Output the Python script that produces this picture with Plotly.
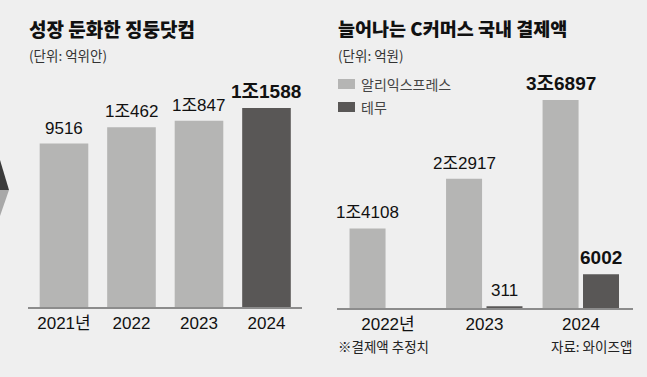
import plotly.graph_objects as go

W, H = 647, 377
BG = "#efefef"
LIGHT = "#b5b5b4"
DARK = "#595756"
AXIS = "#8c8c8c"
KFONT = "Liberation Sans, Noto Sans CJK KR, sans-serif"
TFONT = "Noto Sans CJK KR, sans-serif"

# ---- Left chart data (JD.com revenue, 억위안) ----
jd_years = ["2021년", "2022", "2023", "2024"]
jd_revenue = [9516, 10462, 10847, 11588]
jd_labels = ["9516", "1조462", "1조847", "1조1588"]
jd_colors = [LIGHT, LIGHT, LIGHT, DARK]

# ---- Right chart data (C-commerce payments, 억원) ----
cc_years = ["2022년", "2023", "2024"]
ali_name = "알리익스프레스"
temu_name = "테무"
ali_pay = [14108, 22917, 36897]
temu_pay = [None, 311, 6002]
ali_labels = ["1조4108", "2조2917", "3조6897"]
temu_labels = ["", "311", "6002"]

title_left = "성장 둔화한 징둥닷컴"
unit_left = "(단위: 억위안)"
title_right = "늘어나는 C커머스 국내 결제액"
unit_right = "(단위: 억원)"
note_text = "※결제액 추정치"
source_text = "자료: 와이즈앱"


def px(x):
    return x / W


def py(y):
    return 1 - y / H


BAR_W = 0.373
ALI_OFF = -0.398
TEMU_OFF = 0.021

fig = go.Figure()
fig.add_trace(go.Bar(x=jd_years, y=jd_revenue, marker=dict(color=jd_colors, line_width=0),
                     width=0.72, xaxis="x", yaxis="y", showlegend=False, hoverinfo="skip"))
fig.add_trace(go.Bar(x=cc_years, y=ali_pay, name=ali_name, marker=dict(color=LIGHT, line_width=0),
                     width=BAR_W, offset=ALI_OFF, xaxis="x2", yaxis="y2", showlegend=False))
fig.add_trace(go.Bar(x=cc_years, y=temu_pay, name=temu_name, marker=dict(color=DARK, line_width=0),
                     width=BAR_W, offset=TEMU_OFF, xaxis="x2", yaxis="y2", showlegend=False))

ann = []
# value labels left
for i, (v, t) in enumerate(zip(jd_revenue, jd_labels)):
    last = i == len(jd_revenue) - 1
    ann.append(dict(x=i, y=v, xref="x", yref="y", text=f"<b>{t}</b>" if last else t,
                    showarrow=False, yanchor="bottom", yshift=4,
                    font=dict(size=19 if last else 17, color="#111", family=KFONT)))
# value labels right
for i, (v, t) in enumerate(zip(ali_pay, ali_labels)):
    last = i == len(ali_pay) - 1
    ann.append(dict(x=i + ALI_OFF + BAR_W / 2, y=v, xref="x2", yref="y2",
                    text=f"<b>{t}</b>" if last else t, showarrow=False, yanchor="bottom", yshift=4,
                    font=dict(size=19 if last else 17, color="#111", family=KFONT)))
for i, (v, t) in enumerate(zip(temu_pay, temu_labels)):
    if v is None:
        continue
    last = i == len(temu_pay) - 1
    ann.append(dict(x=i + TEMU_OFF + BAR_W / 2, y=v, xref="x2", yref="y2",
                    text=f"<b>{t}</b>" if last else t, showarrow=False, yanchor="bottom", yshift=4,
                    font=dict(size=19 if last else 17, color="#111", family=KFONT)))

# titles
ann += [
    dict(x=px(27), y=py(28), xref="paper", yref="paper", text=title_left,
         showarrow=False, xanchor="left", yanchor="middle",
         font=dict(size=19, color="#111", family=TFONT, weight=900)),
    dict(x=px(27), y=py(55), xref="paper", yref="paper", text=unit_left,
         showarrow=False, xanchor="left", yanchor="middle",
         font=dict(size=13.5, color="#333", family=TFONT)),
    dict(x=px(336), y=py(28), xref="paper", yref="paper", text=title_right,
         showarrow=False, xanchor="left", yanchor="middle",
         font=dict(size=18.5, color="#111", family=TFONT, weight=900)),
    dict(x=px(336), y=py(55), xref="paper", yref="paper", text=unit_right,
         showarrow=False, xanchor="left", yanchor="middle",
         font=dict(size=13.5, color="#333", family=TFONT)),
    dict(x=px(359), y=py(84), xref="paper", yref="paper", text=ali_name,
         showarrow=False, xanchor="left", yanchor="middle",
         font=dict(size=14, color="#444", family=TFONT)),
    dict(x=px(359), y=py(107), xref="paper", yref="paper", text=temu_name,
         showarrow=False, xanchor="left", yanchor="middle",
         font=dict(size=14, color="#444", family=TFONT)),
    dict(x=px(336), y=py(346), xref="paper", yref="paper", text=note_text,
         showarrow=False, xanchor="left", yanchor="middle",
         font=dict(size=13.5, color="#222", family=TFONT)),
    dict(x=px(634), y=py(346), xref="paper", yref="paper", text=source_text,
         showarrow=False, xanchor="right", yanchor="middle",
         font=dict(size=13.5, color="#222", family=TFONT)),
]

shapes = [
    dict(type="rect", xref="paper", yref="paper", x0=px(338), x1=px(355), y0=py(89), y1=py(79),
         fillcolor=LIGHT, line_width=0),
    dict(type="rect", xref="paper", yref="paper", x0=px(338), x1=px(355), y0=py(112), y1=py(102),
         fillcolor=DARK, line_width=0),
    # clipped decoration at left edge
    dict(type="path", xref="paper", yref="paper",
         path=f"M 0 {py(160)} L {px(9)} {py(190)} L 0 {py(190)} Z",
         fillcolor="#3a3a3a", line_width=0),
    dict(type="path", xref="paper", yref="paper",
         path=f"M 0 {py(190)} L {px(9)} {py(190)} L 0 {py(216)} Z",
         fillcolor="#a8a8a8", line_width=0),
]

axis_common = dict(type="category", showgrid=False, zeroline=False, showline=True,
                   linecolor=AXIS, linewidth=2, ticks="", fixedrange=True,
                   tickfont=dict(size=17, color="#111", family=KFONT))
yaxis_common = dict(visible=False, showgrid=False, zeroline=False, fixedrange=True)

fig.update_layout(
    width=W, height=H, margin=dict(l=0, r=0, t=0, b=0),
    paper_bgcolor=BG, plot_bgcolor=BG, barmode="overlay",
    xaxis=dict(domain=[px(28), px(302)], range=[-0.533, 3.526], anchor="y", **axis_common),
    yaxis=dict(domain=[py(307), py(100)], range=[0, 12050], anchor="x", **yaxis_common),
    xaxis2=dict(domain=[px(337), px(633)], range=[-0.528, 2.539], anchor="y2", **axis_common),
    yaxis2=dict(domain=[py(308), py(95)], range=[0, 37784], anchor="x2", **yaxis_common),
    annotations=ann, shapes=shapes, showlegend=False,
)

fig.write_html("out.html", config={"displayModeBar": False, "staticPlot": True},
               post_script="document.body.style.margin='0';document.body.style.overflow='hidden';")
